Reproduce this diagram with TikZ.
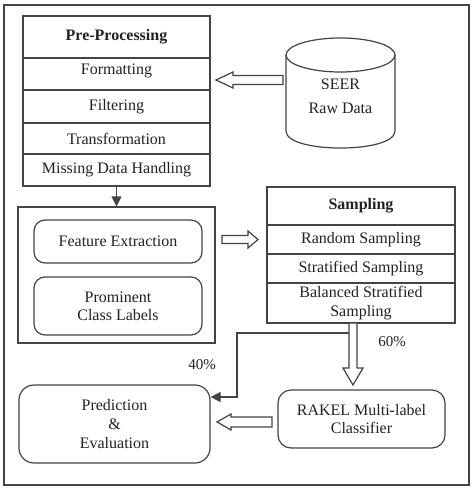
\documentclass[tikz,border=0pt]{standalone}
\usepackage{fontspec}
\setmainfont{Liberation Serif}
\usetikzlibrary{arrows.meta}
\definecolor{ln}{HTML}{444444}
\definecolor{tx}{HTML}{222222}
\begin{document}
\begin{tikzpicture}[x=1pt,y=-1pt,
  font=\fontsize{16}{18}\selectfont, text=tx,
  cell/.style={draw=ln, line width=1.2pt, inner sep=0pt, align=center, fill=white},
  rbox/.style={cell, rounded corners=11pt},
  hollow/.style={draw=ln, line width=1.2pt, fill=white, line join=miter},
  conn/.style={draw=ln, line width=1.2pt, -{Triangle[length=10pt,width=10pt]}}]
\useasboundingbox (0,0) rectangle (474,491);
\fill[white] (0,0) rectangle (474,491);
% outer frame
\draw[ln, line width=1.4pt] (4,5) rectangle (469,485);

% Pre-processing table
\node[cell, minimum width=187, minimum height=42] (pre) at (116.5,37) {\textbf{Pre-Processing}};
\node[cell, minimum width=187, minimum height=32, text depth=10pt] (fmt) at (116.5,74) {Formatting};
\node[cell, minimum width=187, minimum height=33] (flt) at (116.5,106.5) {Filtering};
\node[cell, minimum width=187, minimum height=31] (trn) at (116.5,138.5) {Transformation};
\node[cell, minimum width=187, minimum height=32] (mdh) at (116.5,170) {Missing Data Handling};

% SEER cylinder
\draw[ln, line width=1.2pt, fill=white] (286,55) -- (286,131) .. controls (286,153.7) and (395,153.7) .. (395,131) -- (395,55);
\draw[ln, line width=1.2pt, fill=white] (340.5,55) ellipse [x radius=54.5, y radius=17];
\node[align=center, inner sep=0pt] (seer) at (340.5,96) {SEER\\[6pt]Raw Data};

% hollow arrow SEER -> Formatting
\draw[hollow] (283,75.5) -- (233,75.5) -- (233,72) -- (216,80) -- (233,88) -- (233,84.5) -- (283,84.5) -- cycle;

% Feature group
\node[cell, minimum width=197, minimum height=136] (feat) at (116.5,275) {};
\node[rbox, minimum width=168, minimum height=43] (fe) at (118,241.5) {Feature Extraction};
\node[rbox, minimum width=168, minimum height=58] (pcl) at (118,306) {Prominent\\Class Labels};

\draw[conn] (mdh.south) -- (feat.north);

% hollow arrow Feature -> Sampling
\draw[hollow] (222,235.5) -- (248,235.5) -- (248,231) -- (258,239.5) -- (248,248) -- (248,243.5) -- (222,243.5) -- cycle;

% Sampling table
\node[cell, minimum width=188, minimum height=38] (samp) at (361,206) {\textbf{Sampling}};
\node[cell, minimum width=188, minimum height=29] (rnd) at (361,239.5) {Random Sampling};
\node[cell, minimum width=188, minimum height=29] (strat) at (361,268.5) {Stratified Sampling};
\node[cell, minimum width=188, minimum height=40, font=\fontsize{16}{19}\selectfont] (bal) at (361,303) {Balanced Stratified\\Sampling};

% hollow arrow Sampling -> RAKEL
\draw[hollow] (349,323) -- (349,368) -- (343,368) -- (353,385) -- (363,368) -- (357,368) -- (357,323) -- cycle;
\coordinate (split) at (349,333);

% bottom boxes
\node[rbox, minimum width=191, minimum height=78, rounded corners=15pt, font=\fontsize{16}{19}\selectfont] (pred) at (114.5,424) {Prediction\\\&\\Evaluation};
\node[rbox, minimum width=167, minimum height=58, rounded corners=13pt] (rakel) at (361.5,419) {RAKEL Multi-label\\Classifier};

% hollow arrow RAKEL -> Prediction
\draw[hollow] (272,417) -- (231,417) -- (231,414) -- (217,422) -- (231,430) -- (231,427) -- (272,427) -- cycle;

% 40% connector
\draw[conn] (split) -- (237,333) -- (237,397) -- (pred.east |- 237,397);

\node[font=\fontsize{15}{18}\selectfont] (p40) at (202,365) {40\%};
\node[font=\fontsize{15}{18}\selectfont] (p60) at (392,342) {60\%};
\end{tikzpicture}
\end{document}
